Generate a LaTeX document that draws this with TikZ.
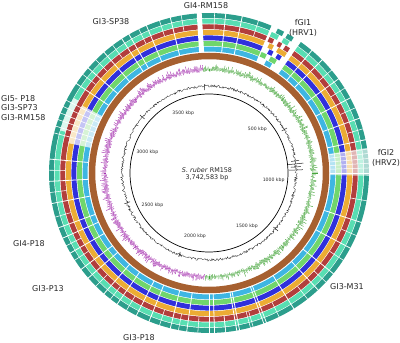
\documentclass[tikz,border=0pt]{standalone}
\usepackage{fontspec}
\setmainfont{DejaVu Sans}
\usepackage{tikz}
\usetikzlibrary{positioning}

\definecolor{ringTeal}{RGB}{44,158,140}
\definecolor{ringAqua}{RGB}{88,222,178}
\definecolor{ringRed}{RGB}{178,62,60}
\definecolor{ringOrange}{RGB}{236,172,52}
\definecolor{ringBlue}{RGB}{48,48,220}
\definecolor{ringGreen}{RGB}{112,214,108}
\definecolor{ringSky}{RGB}{62,182,226}
\definecolor{ringBrown}{RGB}{166,96,48}
\definecolor{skewPlus}{RGB}{70,165,60}
\definecolor{skewMinus}{RGB}{165,50,175}

\begin{document}
\begin{tikzpicture}[x=1pt, y=1pt,
    island/.style={font=\fontsize{8}{9.3}\selectfont, text=black!85},
    kbp/.style={font=\fontsize{4.6}{5}\selectfont, text=black!85},
    genome/.style={font=\fontsize{6.4}{7}\selectfont, text=black!85, inner sep=0.5pt},
    ring/.style={line width=4.9pt},
    gapline/.style={white, line width=0.8pt}]
    \useasboundingbox (0,0) rectangle (400,343);
    \coordinate (c) at (209,170);

    \begin{scope}[shift={(c)}]
    % BLAST rings, outside in, then the reference ring
    \foreach \r/\col in {157.5/ringTeal, 151.9/ringAqua, 146.3/ringRed, 140.7/ringOrange, 135.1/ringBlue, 129.5/ringGreen, 123.9/ringSky}
        \draw[ring, \col] (0,0) circle (\r);
    \draw[ring, line width=6.5pt, ringBrown] (0,0) circle (117);

    % gaps through all query rings
    \foreach \a in {-88,-80,-69,-58,-47,-39,-28,-18,12,20,28,36,45,50,78,84,104,113,120,123,131,139,146,175,183,191,200,204,210,217,221,229,235,243,248,256,262,270,281,290}
        \draw[gapline] (\a:120.8) -- (\a:161);
    % gaps through the outer rings only
    \foreach \a in {-84,-75,-64,-52,-43,-33,-23,-10,16,24,32,40,72,88,100,108,116,127,135,142,179,187,196,207,213,225,232,239,252,259,266,276,286}
        \draw[gapline, line width=0.55pt] (\a:143.8) -- (\a:161);
    \draw[white, line width=5pt] (93.5:120.8) -- (93.5:161);

    % fGI1
    \fill[white] (55:120.8) arc (55:67:120.8) -- (67:161) arc (67:55:161) -- cycle;
    \foreach \r/\col/\a/\b in {157.5/ringTeal/58/60.5, 157.5/ringTeal/62/64.5, 151.9/ringAqua/58.5/61, 151.9/ringAqua/63/66,
        146.3/ringRed/57/59, 146.3/ringRed/60.5/62, 146.3/ringRed/64/66, 140.7/ringOrange/57/61, 140.7/ringOrange/63/65,
        135.1/ringBlue/58/60, 135.1/ringBlue/62/64, 129.5/ringGreen/59/62, 129.5/ringGreen/64/66.5, 123.9/ringSky/60/63}
        \draw[ring, \col] (\a:\r) arc (\a:\b:\r);

    % fGI2
    \fill[white, opacity=0.62] (-1:120.8) arc (-1:9:120.8) -- (9:161) arc (9:-1:161) -- cycle;
    \foreach \a in {0,1.8,3.5,5.2,7,8.6}
        \draw[gapline, line width=0.5pt] (\a:120.8) -- (\a:161);

    % GI5-P18, GI3-SP73, GI3-RM158
    \fill[white, opacity=0.72] (152:120.8) arc (152:168:120.8) -- (168:143.6) arc (168:152:143.6) -- cycle;
    \fill[white, opacity=0.8] (151:149.3) arc (151:164:149.3) -- (164:154.5) arc (164:151:154.5) -- cycle;
    \foreach \a in {153,155.5,158,160.5,163,165.5}
        \draw[gapline, line width=0.6pt] (\a:120.8) -- (\a:161);

    % GC skew
    \pgfmathsetseed{11}
    \foreach \a in {-92,-91.5,...,93}{
        \pgfmathsetmacro{\ro}{104+6*rnd*(0.4+0.6*rnd)}
        \pgfmathsetmacro{\ri}{103.5-2.5*rnd}
        \draw[skewPlus, line width=0.42pt] (\a:\ri) -- (\a:\ro);
    }
    \foreach \a in {93.5,94,...,267.5}{
        \pgfmathsetmacro{\ro}{104+6*rnd*(0.4+0.6*rnd)}
        \pgfmathsetmacro{\ri}{103.5-2.5*rnd}
        \draw[skewMinus, line width=0.42pt] (\a:\ri) -- (\a:\ro);
    }

    % GC content
    \draw[black!80, line width=0.35pt] plot[variable=\t, samples=700, domain=0:360] (\t:{85.6+2.8*rnd});
    \foreach \a/\r/\s in {2/80/94, 4/82/92, 6/79/95, 8/83/91, 30/84/90, 93/83/89, 140/84/90, 200/84/90, 250/84/89, -40/84/90}
        \draw[black!85, line width=0.5pt] (\a:\r) -- (\a:\s);

    \draw[black, line width=0.7pt] (0,0) circle (79);
    \foreach \k in {500,1000,...,3500}
        \node[kbp] (kbp\k) at ({90-\k/3742.583*360}:65) {\k\ kbp};

    \node[genome] (name) at (-2,3) {\textit{S. ruber} RM158};
    \node[genome, below=1pt of name] (length) {3,742,583 bp};
    \end{scope}

    % island labels
    \node[island] (gi4rm) at (206,337) {GI4-RM158};
    \node[island] (gi3sp38) at (111,321) {GI3-SP38};
    \node[island, align=center] (fgi1) at (303,315) {fGI1\\(HRV1)};
    \node[island, align=center] (fgi2) at (386,185) {fGI2\\(HRV2)};
    \node[island, align=left, anchor=west, inner sep=0pt] (gi5) at (1,235) {GI5- P18\\GI3-SP73\\GI3-RM158};
    \node[island] (gi4p18) at (29,99) {GI4-P18};
    \node[island] (gi3p13) at (48,54) {GI3-P13};
    \node[island] (gi3p18) at (139,5) {GI3-P18};
    \node[island] (gi3m31) at (347,56) {GI3-M31};
\end{tikzpicture}
\end{document}
